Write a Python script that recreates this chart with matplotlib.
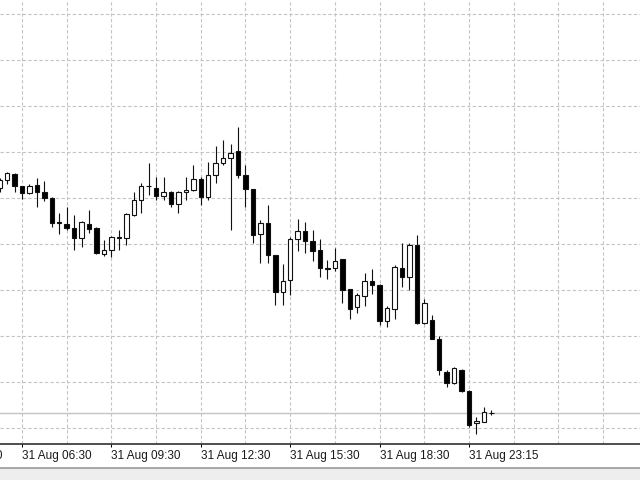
import numpy as np
import matplotlib
matplotlib.use("Agg")
import matplotlib.pyplot as plt
from matplotlib.patches import Rectangle
from matplotlib.lines import Line2D

plt.rcParams['font.family'] = ['Liberation Sans', 'DejaVu Sans']

# 15 minute bars, index 0 = 31 Aug 06:30
first_bar = -3
opens = [1.18521, 1.18539, 1.18552, 1.18525, 1.18510, 1.18528, 1.18512, 1.18501, 1.18445, 1.18443,
         1.18435, 1.18412, 1.18443, 1.18434, 1.18379, 1.18387, 1.18413, 1.18412, 1.18463, 1.18496,
         1.18525, 1.18522, 1.18504, 1.18514, 1.18488, 1.18512, 1.18517, 1.18541, 1.18502, 1.18550,
         1.18577, 1.18586, 1.18603, 1.18550, 1.18519, 1.18422, 1.18446, 1.18376, 1.18296, 1.18322,
         1.18410, 1.18429, 1.18407, 1.18388, 1.18346, 1.18347, 1.18367, 1.18303, 1.18262, 1.18287,
         1.18320, 1.18310, 1.18233, 1.18258, 1.18348, 1.18328, 1.18398, 1.18229, 1.18235, 1.18194,
         1.18122, 1.18097, 1.18126, 1.18081, 1.18010, 1.18014, 1.18033]
highs = [1.18543, 1.18557, 1.18554, 1.18526, 1.18530, 1.18543, 1.18537, 1.18502, 1.18467, 1.18480,
         1.18463, 1.18450, 1.18474, 1.18436, 1.18409, 1.18417, 1.18430, 1.18467, 1.18514, 1.18533,
         1.18577, 1.18546, 1.18546, 1.18516, 1.18516, 1.18545, 1.18572, 1.18546, 1.18579, 1.18613,
         1.18625, 1.18617, 1.18655, 1.18572, 1.18519, 1.18452, 1.18485, 1.18376, 1.18357, 1.18415,
         1.18454, 1.18447, 1.18430, 1.18410, 1.18365, 1.18391, 1.18367, 1.18303, 1.18294, 1.18336,
         1.18345, 1.18313, 1.18265, 1.18354, 1.18402, 1.18402, 1.18420, 1.18280, 1.18246, 1.18200,
         1.18125, 1.18133, 1.18128, 1.18083, 1.18023, 1.18045, 1.18039]
lows = [1.18513, 1.18530, 1.18514, 1.18497, 1.18508, 1.18480, 1.18494, 1.18438, 1.18422, 1.18430,
        1.18387, 1.18393, 1.18423, 1.18379, 1.18374, 1.18371, 1.18387, 1.18398, 1.18461, 1.18467,
        1.18507, 1.18496, 1.18496, 1.18480, 1.18468, 1.18496, 1.18515, 1.18485, 1.18496, 1.18533,
        1.18572, 1.18430, 1.18543, 1.18480, 1.18403, 1.18359, 1.18359, 1.18267, 1.18267, 1.18289,
        1.18385, 1.18381, 1.18364, 1.18328, 1.18323, 1.18342, 1.18272, 1.18236, 1.18249, 1.18265,
        1.18291, 1.18224, 1.18220, 1.18236, 1.18306, 1.18300, 1.18226, 1.18226, 1.18193, 1.18115,
        1.18090, 1.18096, 1.18079, 1.18002, 1.17987, 1.18012, 1.18028]
closes = [1.18539, 1.18554, 1.18525, 1.18510, 1.18526, 1.18514, 1.18499, 1.18446, 1.18447, 1.18435,
          1.18412, 1.18447, 1.18432, 1.18380, 1.18388, 1.18415, 1.18415, 1.18465, 1.18496, 1.18525,
          1.18526, 1.18504, 1.18513, 1.18487, 1.18512, 1.18517, 1.18541, 1.18502, 1.18550, 1.18575,
          1.18586, 1.18597, 1.18550, 1.18519, 1.18420, 1.18445, 1.18376, 1.18296, 1.18320, 1.18411,
          1.18429, 1.18407, 1.18385, 1.18347, 1.18347, 1.18364, 1.18300, 1.18259, 1.18289, 1.18320,
          1.18310, 1.18233, 1.18260, 1.18351, 1.18328, 1.18398, 1.18228, 1.18271, 1.18194, 1.18125,
          1.18097, 1.18130, 1.18081, 1.18007, 1.18015, 1.18035, 1.18033]

label_bars = [-12, 0, 12, 24, 36, 48, 60]
label_texts = ["31 Aug 03:30", "31 Aug 06:30", "31 Aug 09:30", "31 Aug 12:30",
               "31 Aug 15:30", "31 Aug 18:30", "31 Aug 23:15"]

o = np.array(opens)
h = np.array(highs)
l = np.array(lows)
c = np.array(closes)
x = np.arange(first_bar, first_bar + len(o))

fig = plt.figure(figsize=(6.4, 4.8), dpi=100, facecolor='white')
ax = fig.add_axes([0, 36 / 480, 1, 444 / 480])
ax.set_facecolor('white')

# candles: wicks first, bodies on top
ax.vlines(x, l, h, color='#111111', linewidth=0.8, zorder=3)
up = c >= o
ax.bar(x, np.abs(c - o), width=0.6, bottom=np.minimum(o, c),
       color=np.where(up, 'white', 'black'), edgecolor='#111111',
       linewidth=0.8, zorder=4)

# bid line
ax.axhline(c[-1], color='#c4c4c4', linewidth=1.0, zorder=2)

ax.set_xlim(-2.953, 82.953)
ax.set_ylim(1.179652, 1.189304)

# grid every 6 bars / every 10 pips
ax.set_xticks([b for b in label_bars if b >= 0])
ax.set_xticklabels([t for b, t in zip(label_bars, label_texts) if b >= 0])
ax.set_xticks(np.arange(0, 84, 6), minor=True)
ax.set_yticks(np.arange(1.180, 1.1895, 0.001))
ax.set_yticklabels([])
ax.grid(which='both', axis='x', color='#c4c4c4', linewidth=0.8, linestyle=(0, (3, 2)))
ax.grid(which='major', axis='y', color='#c4c4c4', linewidth=0.8, linestyle=(0, (3, 2)))
ax.set_axisbelow(True)

ax.tick_params(axis='y', length=0)
ax.tick_params(axis='x', which='minor', length=0)
ax.tick_params(axis='x', which='major', direction='out', length=2.2, width=0.75,
               color='black', labelsize=8.5, pad=2.0, labelcolor='#1a1a1a')
for lbl in ax.get_xticklabels():
    lbl.set_ha('left')

# label whose bar is left of the window, only its tail shows
first = label_bars[0]
ax.annotate(label_texts[0], xy=(first, 0), xycoords=('data', 'axes fraction'),
            xytext=(0, -4.2), textcoords='offset points', ha='left', va='top',
            fontsize=8.5, color='#1a1a1a', annotation_clip=False)

for side in ['top', 'left', 'right']:
    ax.spines[side].set_visible(False)
ax.spines['bottom'].set_color('#303030')
ax.spines['bottom'].set_linewidth(1.2)

# grey strip at the very bottom of the window
fig.patches.append(Rectangle((0, 0), 1, 12 / 480, transform=fig.transFigure,
                             facecolor='#eeeeee', edgecolor='none', zorder=0))
fig.lines.append(Line2D([0, 1], [12.5 / 480, 12.5 / 480], transform=fig.transFigure,
                        color='#9a9a9a', linewidth=1.2))

fig.savefig('out.png', dpi=100)
